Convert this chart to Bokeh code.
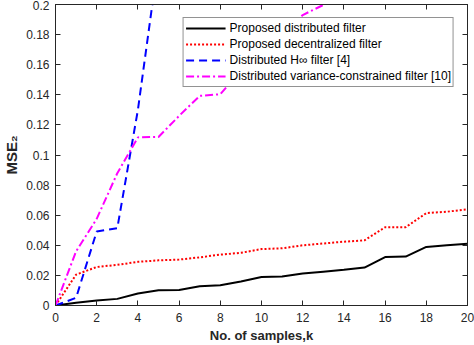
from bokeh.plotting import figure
from bokeh.models import (Range1d, LinearAxis, FixedTicker, Legend, LegendItem,
                          CustomJSTickFormatter, CustomLabelingPolicy)
from bokeh.embed import file_html
from bokeh.resources import INLINE

# ---- data ----
k = list(range(0, 21))
proposed_distributed = [0.0, 0.0018, 0.0033, 0.0044, 0.008, 0.0101, 0.0103, 0.0128, 0.0135, 0.016,
                        0.019, 0.0192, 0.0212, 0.0225, 0.0238, 0.0252, 0.0322, 0.0325, 0.0389, 0.0400, 0.041]
proposed_decentralized = [0.0, 0.0205, 0.0256, 0.027, 0.029, 0.030, 0.0305, 0.032, 0.0338, 0.035,
                          0.0375, 0.038, 0.040, 0.0412, 0.0424, 0.0433, 0.052, 0.052, 0.0614, 0.0623, 0.064]
k_hinf = [0, 1, 2, 3, 4, 5]
distributed_hinf = [0.0, 0.0051, 0.0492, 0.0514, 0.13, 0.23]
k_vc = [0, 1, 2, 3, 4, 5, 6, 7, 8, 9, 10, 11, 12, 13, 14]
distributed_vc = [0.0, 0.036, 0.0576, 0.0879, 0.1117, 0.112, 0.126, 0.1393, 0.1404, 0.156,
                  0.168, 0.18, 0.193, 0.1997, 0.21]

xtick_values = [0, 2, 4, 6, 8, 10, 12, 14, 16, 18, 20]
ytick_values = [0, 0.02, 0.04, 0.06, 0.08, 0.1, 0.12, 0.14, 0.16, 0.18, 0.2]
ytick_labels = ["0", "0.02", "0.04", "0.06", "0.08", "0.1", "0.12", "0.14", "0.16", "0.18", "0.2"]

labels = ["Proposed distributed filter",
          "Proposed decentralized filter",
          "Distributed H\u221e filter [4]",
          "Distributed variance-constrained filter [10]"]

FONT = "Liberation Sans"
AX = "#262626"

p = figure(width=474, height=345, output_backend="svg", toolbar_location=None,
           x_range=Range1d(0, 20), y_range=Range1d(0, 0.2),
           min_border_left=52, min_border_right=7, min_border_top=4, min_border_bottom=39)
p.grid.visible = False
p.outline_line_color = AX
p.outline_line_width = 1
p.background_fill_color = "white"
p.border_fill_color = "white"

r1 = p.line(k, proposed_distributed, line_color="black", line_width=2)
r2 = p.line(k, proposed_decentralized, line_color="#ff0000", line_width=2, line_dash="2 2")
r3 = p.line(k_hinf, distributed_hinf, line_color="#0000ff", line_width=2, line_dash="8 5")
r4 = p.line(k_vc, distributed_vc, line_color="#ff00ff", line_width=2, line_dash="8 3 2 3")

def style(ax):
    ax.axis_line_color = AX
    ax.major_tick_line_color = AX
    ax.minor_tick_line_color = None
    ax.major_tick_in = 5
    ax.major_tick_out = 0
    ax.major_label_text_font = FONT
    ax.major_label_text_color = AX
    ax.major_label_text_font_size = "12px"

xa = p.xaxis[0]
xa.ticker = FixedTicker(ticks=xtick_values)
style(xa)
xa.major_label_standoff = 7
xa.axis_label = "No. of samples,k"
xa.axis_label_text_font = FONT
xa.axis_label_text_font_style = "bold"
xa.axis_label_text_font_size = "13px"
xa.axis_label_text_color = AX
xa.axis_label_standoff = 3

ya = p.yaxis[0]
ya.ticker = FixedTicker(ticks=ytick_values)
ya.major_label_overrides = dict(zip(ytick_values, ytick_labels))
style(ya)
ya.major_label_standoff = 6
ya.axis_label = "MSE\u2082"
ya.axis_label_text_font = FONT
ya.axis_label_text_font_style = "bold"
ya.axis_label_text_font_size = "15px"
ya.axis_label_text_color = AX
ya.axis_label_standoff = 3

blank = CustomJSTickFormatter(code="return '';")
hide_all = CustomLabelingPolicy(code="""
for (const i of indices) { indices.unset(i) }
return indices
""")
top = LinearAxis(ticker=FixedTicker(ticks=xtick_values), formatter=blank,
                 major_label_policy=hide_all)
style(top)
top.major_label_standoff = 0
p.add_layout(top, "above")
right = LinearAxis(ticker=FixedTicker(ticks=ytick_values), formatter=blank,
                   major_label_policy=hide_all)
style(right)
right.major_label_standoff = 0
p.add_layout(right, "right")

legend = Legend(items=[LegendItem(label=labels[0], renderers=[r1]),
                       LegendItem(label=labels[1], renderers=[r2]),
                       LegendItem(label=labels[2], renderers=[r3]),
                       LegendItem(label=labels[3], renderers=[r4])],
                location="top_right")
legend.margin = 13
legend.padding = 2
legend.spacing = 0
legend.glyph_width = 40
legend.glyph_height = 16
legend.label_height = 16
legend.label_standoff = 4
legend.label_text_font = FONT
legend.label_text_font_size = "12px"
legend.label_text_color = "black"
legend.border_line_color = AX
legend.border_line_width = 1
legend.background_fill_alpha = 1
p.add_layout(legend, "center")

open("out.html", "w").write(file_html(p, INLINE))
